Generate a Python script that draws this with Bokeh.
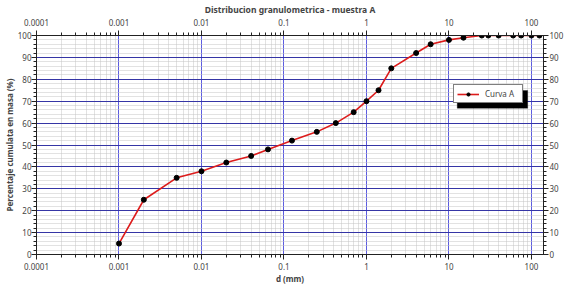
from bokeh.plotting import figure
from bokeh.models import (FixedTicker, SingleIntervalTicker, LinearAxis, LogAxis,
                          CustomJSTickFormatter, Legend, LegendItem, BoxAnnotation, Range1d)
from bokeh.embed import file_html
from bokeh.resources import INLINE

# ---- data ----
title = "Distribucion granulometrica - muestra A"
x_label = "d (mm)"
y_label = "Percentaje cumulata en masa (%)"
series_name = "Curva A"
d_mm = [0.001, 0.002, 0.005, 0.01, 0.02, 0.04, 0.064, 0.125, 0.25, 0.425, 0.7,
        1.0, 1.4, 2.0, 4.0, 6.0, 10.0, 15.0, 25.0, 30.0, 40.0, 60.0, 75.0, 100.0, 125.0]
pct = [5, 25, 35, 38, 42, 45, 48, 52, 56, 60, 65,
       70, 75, 85, 92, 96, 98, 99, 100, 100, 100, 100, 100, 100, 100]
x_ticks = [0.0001, 0.001, 0.01, 0.1, 1, 10, 100]
y_ticks = [0, 10, 20, 30, 40, 50, 60, 70, 80, 90, 100]

FONT = "Noto Sans"
FS = "8px"

minor_x = [m * t for t in x_ticks for m in range(2, 10)]

p = figure(width=570, height=286, x_axis_type="log", x_range=Range1d(0.0001, 140),
           y_range=Range1d(0, 100), output_backend="svg", toolbar_location=None,
           min_border_left=36, min_border_right=27, min_border_top=35, min_border_bottom=32,
           title=title)
p.title.text_font = FONT
p.title.text_font_size = "8.5px"
p.title.text_font_style = "bold"
p.title.align = "center"
p.title.offset = 0
p.title.standoff = 2
p.outline_line_color = "black"
p.background_fill_color = "white"
p.border_fill_color = "white"

xt = FixedTicker(ticks=x_ticks, minor_ticks=minor_x)
yt = SingleIntervalTicker(interval=10, num_minor_ticks=5)
fmt = CustomJSTickFormatter(code="return tick.toString();")

def style(ax, standoff):
    ax.major_label_text_font = FONT
    ax.major_label_text_font_size = FS
    ax.axis_label_text_font = FONT
    ax.axis_label_text_font_size = FS
    ax.axis_label_text_font_style = "bold"
    ax.axis_line_color = "#222222"
    ax.major_tick_line_color = "#222222"
    ax.minor_tick_line_color = "#222222"
    ax.major_tick_in = 0
    ax.major_tick_out = 5
    ax.minor_tick_in = 0
    ax.minor_tick_out = 3
    ax.major_label_standoff = standoff

xa = p.xaxis[0]
xa.ticker = xt
xa.formatter = fmt
xa.axis_label = x_label
xa.axis_label_standoff = 0
style(xa, 3)
ya = p.yaxis[0]
ya.ticker = yt
ya.axis_label = y_label
ya.axis_label_standoff = 0
style(ya, 0)

top = LogAxis(ticker=xt, formatter=fmt)
style(top, 5)
p.add_layout(top, "above")
right = LinearAxis(ticker=yt)
style(right, 1)
p.add_layout(right, "right")

p.xgrid[0].grid_line_color = "#5c5ce0"
p.ygrid[0].grid_line_color = "#3535a5"
for g in (p.xgrid[0], p.ygrid[0]):
    g.grid_line_width = 1
    g.minor_grid_line_color = "#c4c4c4"
    g.minor_grid_line_dash = "1 1"
    g.minor_grid_line_width = 1

ln = p.line(d_mm, pct, line_color="#dd1c1c", line_width=1.6)
sc = p.scatter(d_mm, pct, size=5, fill_color="black", line_color="black")

shadow = BoxAnnotation(left=12.6, right=90, bottom=66.8, top=74.9,
                       fill_color="black", fill_alpha=1, line_color="black")
p.add_layout(shadow)

leg = Legend(items=[LegendItem(label=series_name, renderers=[ln, sc])],
             location=(417, 151), padding=3, margin=0, spacing=0,
             glyph_width=22, glyph_height=8, label_height=8, label_width=34,
             label_standoff=6,
             label_text_font=FONT, label_text_font_size=FS,
             border_line_color="black", border_line_width=1,
             background_fill_color="white", background_fill_alpha=1)
p.add_layout(leg)

open("out.html", "w").write(file_html(p, INLINE))
